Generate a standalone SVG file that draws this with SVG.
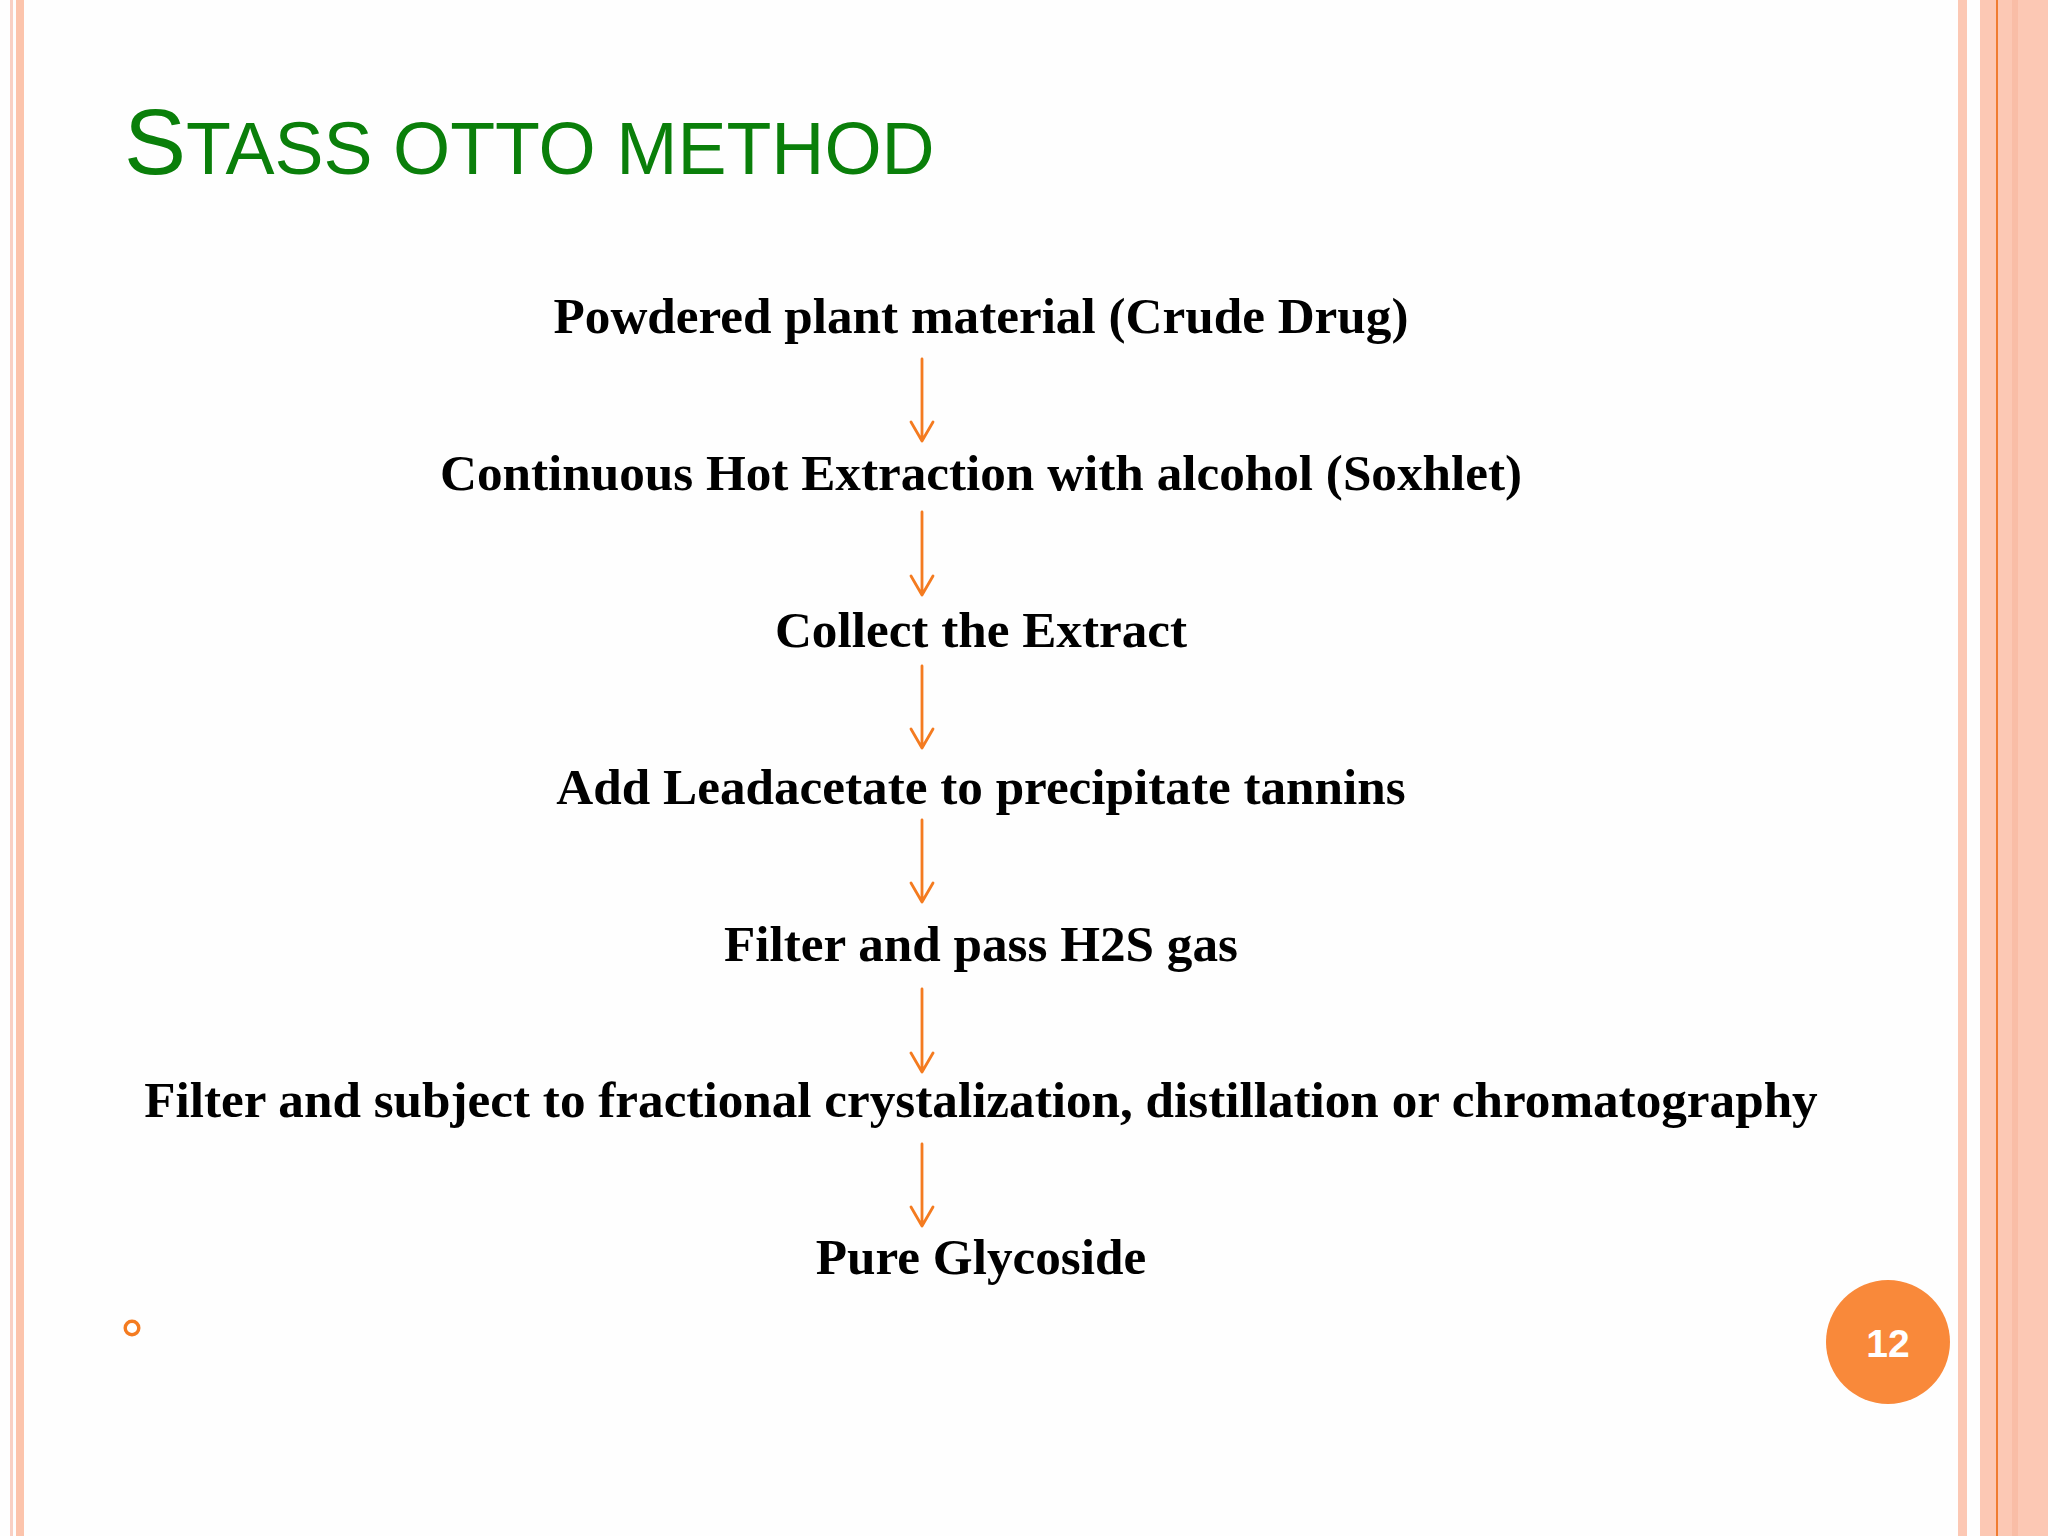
<svg xmlns="http://www.w3.org/2000/svg" width="2048" height="1536" viewBox="0 0 2048 1536">
<defs>
<style>
.step{font-family:"Liberation Serif","Times New Roman",serif;font-weight:bold;font-size:51.2px;fill:#000;text-anchor:middle}
.title{font-family:"Liberation Sans",Arial,sans-serif;fill:#0A7F0A}
.arr{stroke:#F47B20;stroke-width:2.8;fill:none;stroke-linecap:round;stroke-linejoin:round}
</style>
</defs>
<rect x="0" y="0" width="2048" height="1536" fill="#FEFEFE"/>
<g id="borders">
<rect x="10" y="0" width="3" height="1536" fill="#F9D0C4"/>
<rect x="16" y="0" width="8" height="1536" fill="#FCC4AC"/>
<rect x="1958" y="0" width="9" height="1536" fill="#FCC8B4"/>
<rect x="1980" y="0" width="68" height="1536" fill="#FCC8B4"/>
<rect x="2012" y="0" width="6" height="1536" fill="#F9BDA6"/>
<rect x="1996" y="0" width="2" height="1536" fill="#F07C30"/>
</g>
<g id="title">
<text class="title" x="124" y="174"><tspan font-size="93">S</tspan><tspan font-size="73.5">TASS OTTO METHOD</tspan></text>
</g>
<g id="node1"><text class="step" x="981" y="333">Powdered plant material (Crude Drug)</text></g>
<g id="node2"><text class="step" x="981" y="490">Continuous Hot Extraction with alcohol (Soxhlet)</text></g>
<g id="node3"><text class="step" x="981" y="647">Collect the Extract</text></g>
<g id="node4"><text class="step" x="981" y="804">Add Leadacetate to precipitate tannins</text></g>
<g id="node5"><text class="step" x="981" y="961">Filter and pass H2S gas</text></g>
<g id="node6"><text class="step" x="981" y="1117">Filter and subject to fractional crystalization, distillation or chromatography</text></g>
<g id="node7"><text class="step" x="981" y="1274">Pure Glycoside</text></g>
<g id="connectors">
<path class="arr" d="M922 359V441M911 422L922 441L933 422"/>
<path class="arr" d="M922 512V595M911 576L922 595L933 576"/>
<path class="arr" d="M922 666V748M911 729L922 748L933 729"/>
<path class="arr" d="M922 820V902M911 883L922 902L933 883"/>
<path class="arr" d="M922 989V1072M911 1053L922 1072L933 1053"/>
<path class="arr" d="M922 1144V1226M911 1207L922 1226L933 1207"/>
</g>
<g id="bullet"><circle cx="132" cy="1328" r="6.8" fill="none" stroke="#F47B20" stroke-width="3.4"/></g>
<g id="page-number">
<circle cx="1888" cy="1342" r="62" fill="#F9893A"/>
<text x="1888" y="1357" font-family="Liberation Sans,Arial,sans-serif" font-weight="bold" font-size="39" fill="#FFFFFF" text-anchor="middle">12</text>
</g>
</svg>
